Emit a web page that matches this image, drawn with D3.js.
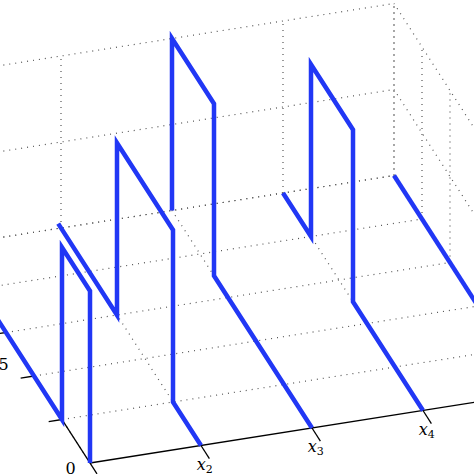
<!DOCTYPE html>
<html>
<head>
<meta charset="utf-8">
<script src="https://cdn.jsdelivr.net/npm/d3@7"></script>
<style>
body { margin: 0; background: #fff; }
svg { display: block; }
</style>
</head>
<body>
<div id="chart"></div>
<script>
// data: one profile per x position, vertices as [depth, height]
var xPositions = [1, 2, 3, 4, 5];
var xLabels = ["x1", "x2", "x3", "x4", "x5"];
var profiles = [
	[[0, 0], [0, 1], [1, 1], [1, 0], [5, 0]],
	[[0, 0], [1, 0], [1, 1], [3, 1], [3, 0], [5.1, 0]],
	[[0, 0], [3.5, 0], [3.5, 1], [5, 1], [5, 0]],
	[[0, 0], [2.5, 0], [2.5, 1], [4, 1], [4, 0], [5, 0]],
	[[0, 0], [5, 0]]
];
var depthTicks = [0, 1, 2, 3, 4, 5];
var depthTickLabels = {0: "0", 2: "5"};
var zGrid = [0, 0.5, 1];

var w = 474, h = 474;

// oblique projection: x index, depth, height -> screen
var xs = d3.scaleLinear().domain([1, 2]).range([0, 1]);
var ds = d3.scaleLinear().domain([0, 1]).range([0, 1]);
var zs = d3.scaleLinear().domain([0, 1]).range([0, -172]);
var ox = 90, oy = 463;
var ex = [111, -17.5], ey = [-28, -43.5];

function proj(x, d, z) {
	var u = xs(x), v = ds(d);
	return [ox + u * ex[0] + v * ey[0], oy + u * ex[1] + v * ey[1] + zs(z)];
}

var svg = d3.select("#chart").append("svg")
	.attr("width", w)
	.attr("height", h);

var line = d3.line();
var grid = svg.append("g")
	.attr("fill", "none")
	.attr("stroke", "#555")
	.attr("stroke-width", 1.2)
	.attr("stroke-dasharray", "1,5");

var xMin = 1, xMax = 5, dMax = 5;

// floor grid
depthTicks.forEach(function(d) {
	if (d === 0) return;
	grid.append("path").attr("d", line([proj(xMin, d, 0), proj(xMax, d, 0)]));
});
xPositions.forEach(function(x) {
	if (x === xMax) return;
	grid.append("path").attr("d", line([proj(x, 0, 0), proj(x, dMax, 0)]));
});
// back wall (depth = dMax)
zGrid.forEach(function(z) {
	grid.append("path").attr("d", line([proj(xMin, dMax, z), proj(xMax, dMax, z)]));
});
xPositions.forEach(function(x) {
	grid.append("path").attr("d", line([proj(x, dMax, 0), proj(x, dMax, 1)]));
});
// side wall (x = xMax)
zGrid.forEach(function(z) {
	grid.append("path").attr("d", line([proj(xMax, 0, z), proj(xMax, dMax, z)]));
});
depthTicks.forEach(function(d) {
	grid.append("path").attr("d", line([proj(xMax, d, 0), proj(xMax, d, 1)]));
});

// axes
var axes = svg.append("g").attr("stroke", "#000").attr("stroke-width", 1.3).attr("fill", "none");
axes.append("path").attr("d", line([proj(xMin, 0, 0), proj(xMax + 0.5, 0, 0)]));
axes.append("path").attr("d", line([proj(xMin, -0.25, 0), proj(xMin, dMax, 0)]));
xPositions.forEach(function(x) {
	if (x === xMin) return;
	axes.append("path").attr("d", line([proj(x, 0, 0), proj(x, -0.3, 0)]));
});
depthTicks.forEach(function(d) {
	if (d === 0) return;
	axes.append("path").attr("d", line([proj(xMin, d, 0), proj(xMin - 0.12, d, 0)]));
});

// tick labels
var txt = svg.append("g")
	.attr("font-family", "'DejaVu Serif', 'Liberation Serif', serif")
	.attr("fill", "#000");
xPositions.forEach(function(x, i) {
	if (i === 0) return;
	var p = proj(x, -0.35, 0);
	var t = txt.append("text")
		.attr("x", p[0] - 6)
		.attr("y", p[1] + 9)
		.attr("text-anchor", "middle")
		.attr("font-size", 16)
		.attr("font-style", "italic");
	t.append("tspan").text(xLabels[i].charAt(0));
	t.append("tspan").attr("font-size", 11).attr("dy", 3).attr("font-style", "normal").text(xLabels[i].slice(1));
});
depthTicks.forEach(function(d) {
	if (!(d in depthTickLabels)) return;
	var p = proj(xMin - 0.12, d, 0);
	txt.append("text")
		.attr("x", d === 0 ? p[0] - 1 : p[0] - 12)
		.attr("y", d === 0 ? p[1] + 9 : p[1] - 8)
		.attr("text-anchor", "end")
		.attr("font-size", 16)
		.text(depthTickLabels[d]);
});

// profiles
svg.append("g").selectAll("path")
	.data(profiles)
	.enter().append("path")
	.attr("fill", "none")
	.attr("stroke", "#2137f5")
	.attr("stroke-width", 4.5)
	.attr("stroke-linejoin", "miter")
	.attr("d", function(p, i) {
		return line(p.map(function(v) { return proj(xPositions[i], v[0], v[1]); }));
	});
</script>
</body>
</html>
